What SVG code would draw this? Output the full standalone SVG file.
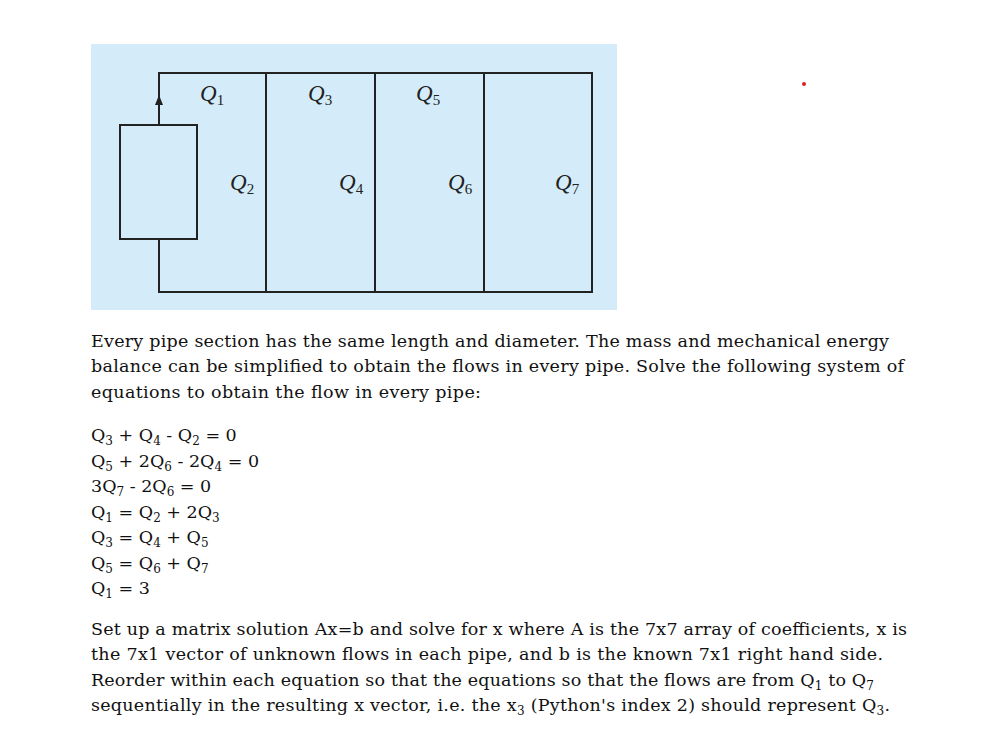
<svg xmlns="http://www.w3.org/2000/svg" width="982" height="730" viewBox="0 0 982 730">
<style>
.w{stroke:#222;stroke-width:2;fill:none}
.q{font-family:"Liberation Serif",serif;font-style:italic;font-size:23px;fill:#222}
.q tspan{font-style:normal;font-size:15px}
.t{font-family:"DejaVu Serif",serif;font-size:17.5px;fill:#111}
.t tspan.s{font-size:12px}
</style>
<rect width="982" height="730" fill="#fff"/>
<g id="circuit">
<rect x="91" y="44" width="526" height="266" fill="#d4ecf9"/>
<path class="w" d="M159 125V73H592V292H159V239M266 73V292M375 73V292M484 73V292"/>
<rect class="w" x="120" y="125" width="77" height="114"/>
<path d="M159 95l-4 10h8z" fill="#222"/>
<text class="q" x="200" y="101">Q<tspan dy="4">1</tspan></text>
<text class="q" x="308" y="101">Q<tspan dy="4">3</tspan></text>
<text class="q" x="416" y="101">Q<tspan dy="4">5</tspan></text>
<text class="q" x="230" y="190">Q<tspan dy="4">2</tspan></text>
<text class="q" x="339" y="190">Q<tspan dy="4">4</tspan></text>
<text class="q" x="448" y="190">Q<tspan dy="4">6</tspan></text>
<text class="q" x="555" y="190">Q<tspan dy="4">7</tspan></text>
</g>
<circle cx="804" cy="84" r="2" fill="#e02020"/>
<g id="text" class="t">
<text x="91" y="347" textLength="798">Every pipe section has the same length and diameter. The mass and mechanical energy</text>
<text x="91" y="372" textLength="813">balance can be simplified to obtain the flows in every pipe. Solve the following system of</text>
<text x="91" y="398" textLength="390">equations to obtain the flow in every pipe:</text>
<text x="91" y="441">Q<tspan class="s" dy="4">3</tspan><tspan dy="-4"> + Q</tspan><tspan class="s" dy="4">4</tspan><tspan dy="-4"> - Q</tspan><tspan class="s" dy="4">2</tspan><tspan dy="-4"> = 0</tspan></text>
<text x="91" y="467">Q<tspan class="s" dy="4">5</tspan><tspan dy="-4"> + 2Q</tspan><tspan class="s" dy="4">6</tspan><tspan dy="-4"> - 2Q</tspan><tspan class="s" dy="4">4</tspan><tspan dy="-4"> = 0</tspan></text>
<text x="91" y="492">3Q<tspan class="s" dy="4">7</tspan><tspan dy="-4"> - 2Q</tspan><tspan class="s" dy="4">6</tspan><tspan dy="-4"> = 0</tspan></text>
<text x="91" y="518">Q<tspan class="s" dy="4">1</tspan><tspan dy="-4"> = Q</tspan><tspan class="s" dy="4">2</tspan><tspan dy="-4"> + 2Q</tspan><tspan class="s" dy="4">3</tspan></text>
<text x="91" y="543">Q<tspan class="s" dy="4">3</tspan><tspan dy="-4"> = Q</tspan><tspan class="s" dy="4">4</tspan><tspan dy="-4"> + Q</tspan><tspan class="s" dy="4">5</tspan></text>
<text x="91" y="569">Q<tspan class="s" dy="4">5</tspan><tspan dy="-4"> = Q</tspan><tspan class="s" dy="4">6</tspan><tspan dy="-4"> + Q</tspan><tspan class="s" dy="4">7</tspan></text>
<text x="91" y="594">Q<tspan class="s" dy="4">1</tspan><tspan dy="-4"> = 3</tspan></text>
<text x="91" y="635" textLength="816">Set up a matrix solution Ax=b and solve for x where A is the 7x7 array of coefficients, x is</text>
<text x="91" y="660" textLength="792">the 7x1 vector of unknown flows in each pipe, and b is the known 7x1 right hand side.</text>
<text x="91" y="686" textLength="783">Reorder within each equation so that the equations so that the flows are from Q<tspan class="s" dy="4">1</tspan><tspan dy="-4"> to Q</tspan><tspan class="s" dy="4">7</tspan></text>
<text x="91" y="711" textLength="799">sequentially in the resulting x vector, i.e. the x<tspan class="s" dy="4">3</tspan><tspan dy="-4"> (Python's index 2) should represent Q</tspan><tspan class="s" dy="4">3</tspan><tspan dy="-4">.</tspan></text>
</g>
</svg>
